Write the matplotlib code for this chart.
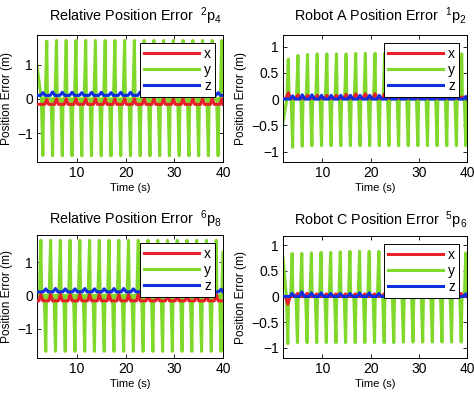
import matplotlib
matplotlib.use("Agg")
import matplotlib.pyplot as plt
from matplotlib.lines import Line2D

plt.rcParams['font.family'] = ['Liberation Sans', 'DejaVu Sans']
plt.rcParams['mathtext.default'] = 'regular'

RED = '#e8202a'
GREEN = '#7fd82a'
BLUE = '#1030e0'

titles = [r'Relative Position Error  $\mathregular{^{2}p_{4}}$',
          r'Robot A Position Error  $\mathregular{^{1}p_{2}}$',
          r'Relative Position Error  $\mathregular{^{6}p_{8}}$',
          r'Robot C Position Error  $\mathregular{^{5}p_{6}}$']
legend_labels = ['x', 'y', 'z']
xticks = [10, 20, 30, 40]
yticks_big = [-1, 0, 1]
yticks_small = [-1, -0.5, 0, 0.5, 1]

# ---------- panel 1: 2p4 ----------
p1_start = (1.8, 0.95)
p1_end = (40.0, 0.0)
p1_y_base = 0.0
p1_top_t = [3.8, 5.8, 7.8, 9.8, 11.8, 13.8, 15.8, 17.8, 19.8, 21.8, 23.8, 25.8, 27.8, 29.8, 31.8, 33.8, 35.8, 37.8, 39.75]
p1_top_y = [1.68, 1.70, 1.70, 1.70, 1.70, 1.70, 1.70, 1.70, 1.70, 1.70, 1.70, 1.70, 1.70, 1.70, 1.70, 1.70, 1.70, 1.70, 1.70]
p1_bot_t = [3.0, 5.0, 7.0, 9.0, 11.0, 13.0, 15.0, 17.0, 19.0, 21.0, 23.0, 25.0, 27.0, 29.0, 31.0, 33.0, 35.0, 37.0, 39.0]
p1_bot_y = [-1.65, -1.66, -1.66, -1.66, -1.66, -1.66, -1.66, -1.66, -1.66, -1.66, -1.66, -1.66, -1.66, -1.66, -1.66, -1.66, -1.66, -1.66, -1.66]
p1_x_base = -0.16
p1_x_peak = [-0.02, 0.0, 0.0, 0.0, 0.0, 0.0, 0.0, 0.0, 0.0, 0.0, 0.0, 0.0, 0.0, 0.0, 0.0, 0.0, 0.0, 0.0, 0.0]
p1_z_base = 0.10
p1_z_peak = [0.18, 0.20, 0.19, 0.19, 0.18, 0.19, 0.19, 0.18, 0.19, 0.19, 0.20, 0.19, 0.18, 0.19, 0.19, 0.18, 0.18, 0.18, 0.18]

# ---------- panel 2: 1p2 ----------
p2_start = (1.8, -0.45)
p2_end = (40.0, 0.0)
p2_y_base = 0.0
p2_top_t = [2.9, 4.9, 6.9, 8.9, 10.9, 12.9, 14.9, 16.9, 18.9, 20.9, 22.9, 24.9, 26.9, 28.9, 30.9, 32.9, 34.9, 36.9, 38.9]
p2_top_y = [0.76, 0.83, 0.85, 0.86, 0.86, 0.86, 0.86, 0.87, 0.87, 0.87, 0.87, 0.87, 0.86, 0.86, 0.86, 0.86, 0.86, 0.86, 0.86]
p2_bot_t = [3.8, 5.8, 7.8, 9.8, 11.8, 13.8, 15.8, 17.8, 19.8, 21.8, 23.8, 25.8, 27.8, 29.8, 31.8, 33.8, 35.8, 37.8, 39.75]
p2_bot_y = [-0.92, -0.90, -0.89, -0.89, -0.89, -0.89, -0.89, -0.89, -0.89, -0.89, -0.89, -0.89, -0.89, -0.89, -0.89, -0.89, -0.89, -0.89, -0.89]
p2_x_base = 0.01
p2_x_peak = [0.12, 0.08, 0.07, 0.07, 0.07, 0.07, 0.09, 0.10, 0.10, 0.10, 0.10, 0.10, 0.04, 0.04, 0.04, 0.04, 0.04, 0.04, 0.04]
p2_z_base = 0.0
p2_z_peak = [0.06, 0.08, 0.08, 0.07, 0.07, 0.07, 0.07, 0.07, 0.07, 0.07, 0.07, 0.07, 0.05, 0.05, 0.05, 0.05, 0.05, 0.05, 0.05]

# ---------- panel 3: 6p8 ----------
p3_start = (1.8, 0.0)
p3_end = (40.0, 1.3)
p3_y_base = 0.0
p3_top_t = [2.6, 4.6, 6.6, 8.6, 10.6, 12.6, 14.6, 16.6, 18.6, 20.6, 22.6, 24.6, 26.6, 28.6, 30.6, 32.6, 34.6, 36.6, 38.6]
p3_top_y = [1.66, 1.66, 1.66, 1.66, 1.66, 1.66, 1.66, 1.66, 1.66, 1.66, 1.66, 1.66, 1.66, 1.66, 1.66, 1.66, 1.66, 1.66, 1.66]
p3_bot_t = [3.6, 5.6, 7.6, 9.6, 11.6, 13.6, 15.6, 17.6, 19.6, 21.6, 23.6, 25.6, 27.6, 29.6, 31.6, 33.6, 35.6, 37.6, 39.6]
p3_bot_y = [-1.68, -1.68, -1.68, -1.68, -1.68, -1.68, -1.68, -1.68, -1.68, -1.68, -1.68, -1.68, -1.68, -1.68, -1.68, -1.68, -1.68, -1.68, -1.68]
p3_x_base = -0.16
p3_x_peak = [0.03, 0.03, 0.03, 0.03, 0.03, 0.03, 0.03, 0.03, 0.03, 0.03, 0.03, 0.03, 0.03, 0.03, 0.03, 0.03, 0.03, 0.03, 0.03]
p3_z_base = 0.11
p3_z_peak = [0.20, 0.21, 0.20, 0.20, 0.21, 0.20, 0.20, 0.21, 0.21, 0.20, 0.20, 0.21, 0.20, 0.19, 0.19, 0.19, 0.19, 0.19, 0.19]

# ---------- panel 4: 5p6 ----------
p4_start = (1.8, 0.76)
p4_end = (40.0, 0.0)
p4_y_base = 0.0
p4_top_t = [3.7, 5.7, 7.7, 9.7, 11.7, 13.7, 15.7, 17.7, 19.7, 21.7, 23.7, 25.7, 27.7, 29.7, 31.7, 33.7, 35.7, 37.7, 39.75]
p4_top_y = [0.84, 0.84, 0.85, 0.86, 0.86, 0.87, 0.88, 0.88, 0.88, 0.88, 0.87, 0.86, 0.85, 0.85, 0.85, 0.85, 0.85, 0.85, 0.85]
p4_bot_t = [2.8, 4.8, 6.8, 8.8, 10.8, 12.8, 14.8, 16.8, 18.8, 20.8, 22.8, 24.8, 26.8, 28.8, 30.8, 32.8, 34.8, 36.8, 38.8]
p4_bot_y = [-0.92, -0.90, -0.90, -0.90, -0.90, -0.90, -0.90, -0.90, -0.90, -0.90, -0.90, -0.90, -0.89, -0.89, -0.89, -0.89, -0.89, -0.89, -0.89]
p4_x_base = 0.0
p4_x_peak = [-0.15, 0.06, 0.06, 0.05, 0.05, 0.05, 0.05, 0.05, 0.05, 0.05, 0.05, 0.05, 0.04, 0.04, 0.04, 0.04, 0.04, 0.04, 0.06]
p4_z_base = 0.0
p4_z_peak = [0.06, 0.09, 0.07, 0.07, 0.06, 0.06, 0.06, 0.07, 0.07, 0.06, 0.06, 0.06, 0.05, 0.05, 0.05, 0.05, 0.05, 0.05, 0.05]

panels = [
    dict(start=p1_start, end=p1_end, base=p1_y_base, top_t=p1_top_t, top_y=p1_top_y, bot_t=p1_bot_t, bot_y=p1_bot_y,
         x_base=p1_x_base, x_peak=p1_x_peak, x_t=p1_top_t, z_base=p1_z_base, z_peak=p1_z_peak, z_t=p1_bot_t,
         ylim=(-1.84, 1.86), yticks=yticks_big, hw_x=0.4, hw_z=0.5),
    dict(start=p2_start, end=p2_end, base=p2_y_base, top_t=p2_top_t, top_y=p2_top_y, bot_t=p2_bot_t, bot_y=p2_bot_y,
         x_base=p2_x_base, x_peak=p2_x_peak, x_t=p2_top_t, z_base=p2_z_base, z_peak=p2_z_peak, z_t=p2_bot_t,
         ylim=(-1.2, 1.22), yticks=yticks_small, hw_x=0.5, hw_z=0.5),
    dict(start=p3_start, end=p3_end, base=p3_y_base, top_t=p3_top_t, top_y=p3_top_y, bot_t=p3_bot_t, bot_y=p3_bot_y,
         x_base=p3_x_base, x_peak=p3_x_peak, x_t=p3_top_t, z_base=p3_z_base, z_peak=p3_z_peak, z_t=p3_bot_t,
         ylim=(-1.88, 1.82), yticks=yticks_big, hw_x=0.4, hw_z=0.5),
    dict(start=p4_start, end=p4_end, base=p4_y_base, top_t=p4_top_t, top_y=p4_top_y, bot_t=p4_bot_t, bot_y=p4_bot_y,
         x_base=p4_x_base, x_peak=p4_x_peak, x_t=p4_bot_t, z_base=p4_z_base, z_peak=p4_z_peak, z_t=p4_top_t,
         ylim=(-1.2, 1.18), yticks=yticks_small, hw_x=0.5, hw_z=0.5),
]

SPIKE_RISE = 0.3    # shape of each green spike (s)
SPIKE_FALL = 0.15


def spikes(start, end, base, top_t, top_y, bot_t, bot_y):
    pts = []
    for t, v in list(zip(top_t, top_y)) + list(zip(bot_t, bot_y)):
        pts += [(t - SPIKE_RISE, base), (t, v), (t + SPIKE_FALL, base)]
    pts = sorted(pts, key=lambda p: p[0])
    pts = [p for p in pts if start[0] < p[0] < end[0]]
    pts = [start] + pts + [end]
    return [p[0] for p in pts], [p[1] for p in pts]


def pulses(t_list, peaks, base, hw, t0=1.8, t1=40.0):
    ts, vs = [t0], [base]
    for t, h in zip(t_list, peaks):
        ts += [t - hw, t, t + hw]
        vs += [base, h, base]
    ts.append(t1)
    vs.append(base)
    pts = sorted([(a, b) for a, b in zip(ts, vs) if t0 <= a <= t1])
    return [p[0] for p in pts], [p[1] for p in pts]


fig = plt.figure(figsize=(4.74, 3.93), dpi=100)
W, H = 474.0, 393.0
boxes = [(37, 35, 223, 162), (283, 35, 467, 162), (37, 235, 223, 358), (283, 236, 467, 358)]
title_pads = [10, 10, 8, 8]

for i, (pd, box) in enumerate(zip(panels, boxes)):
    l, t, r, b = box
    ax = fig.add_axes([l / W, 1 - b / H, (r - l) / W, (b - t) / H])
    gx, gy = spikes(pd['start'], pd['end'], pd['base'], pd['top_t'], pd['top_y'], pd['bot_t'], pd['bot_y'])
    ax.plot(gx, gy, color=GREEN, lw=2.2, zorder=2)
    rx, ry = pulses(pd['x_t'], pd['x_peak'], pd['x_base'], pd['hw_x'])
    ax.plot(rx, ry, color=RED, lw=2.2, zorder=3)
    bx, by = pulses(pd['z_t'], pd['z_peak'], pd['z_base'], pd['hw_z'])
    ax.plot(bx, by, color=BLUE, lw=2.2, zorder=4)
    ax.set_xlim(1.8, 40)
    ax.set_ylim(*pd['ylim'])
    ax.set_xticks(xticks)
    ax.set_yticks(pd['yticks'])
    ax.set_yticklabels([('%g' % v).replace('-', '\u2212') for v in pd['yticks']])
    ax.tick_params(direction='in', top=True, right=True, length=3, width=0.6, labelsize=10, pad=3)
    for s in ax.spines.values():
        s.set_linewidth(0.7)
    ax.set_title(titles[i], fontsize=10.4, pad=title_pads[i], x=0.53)
    ax.set_xlabel('Time (s)', fontsize=8, labelpad=2)
    ax.set_ylabel('Position Error (m)', fontsize=8.6, labelpad=3)
    handles = [Line2D([], [], color=c, lw=2.2) for c in (RED, GREEN, BLUE)]
    leg = ax.legend(handles, legend_labels, loc='upper right', fontsize=10,
                    handlelength=3.9, handletextpad=0.4, labelspacing=0.15,
                    borderpad=0.3, borderaxespad=0.55, fancybox=False, framealpha=1)
    leg.get_frame().set_edgecolor('black')
    leg.get_frame().set_linewidth(0.7)
    leg.set_zorder(10)

fig.savefig('out.png', dpi=100)
